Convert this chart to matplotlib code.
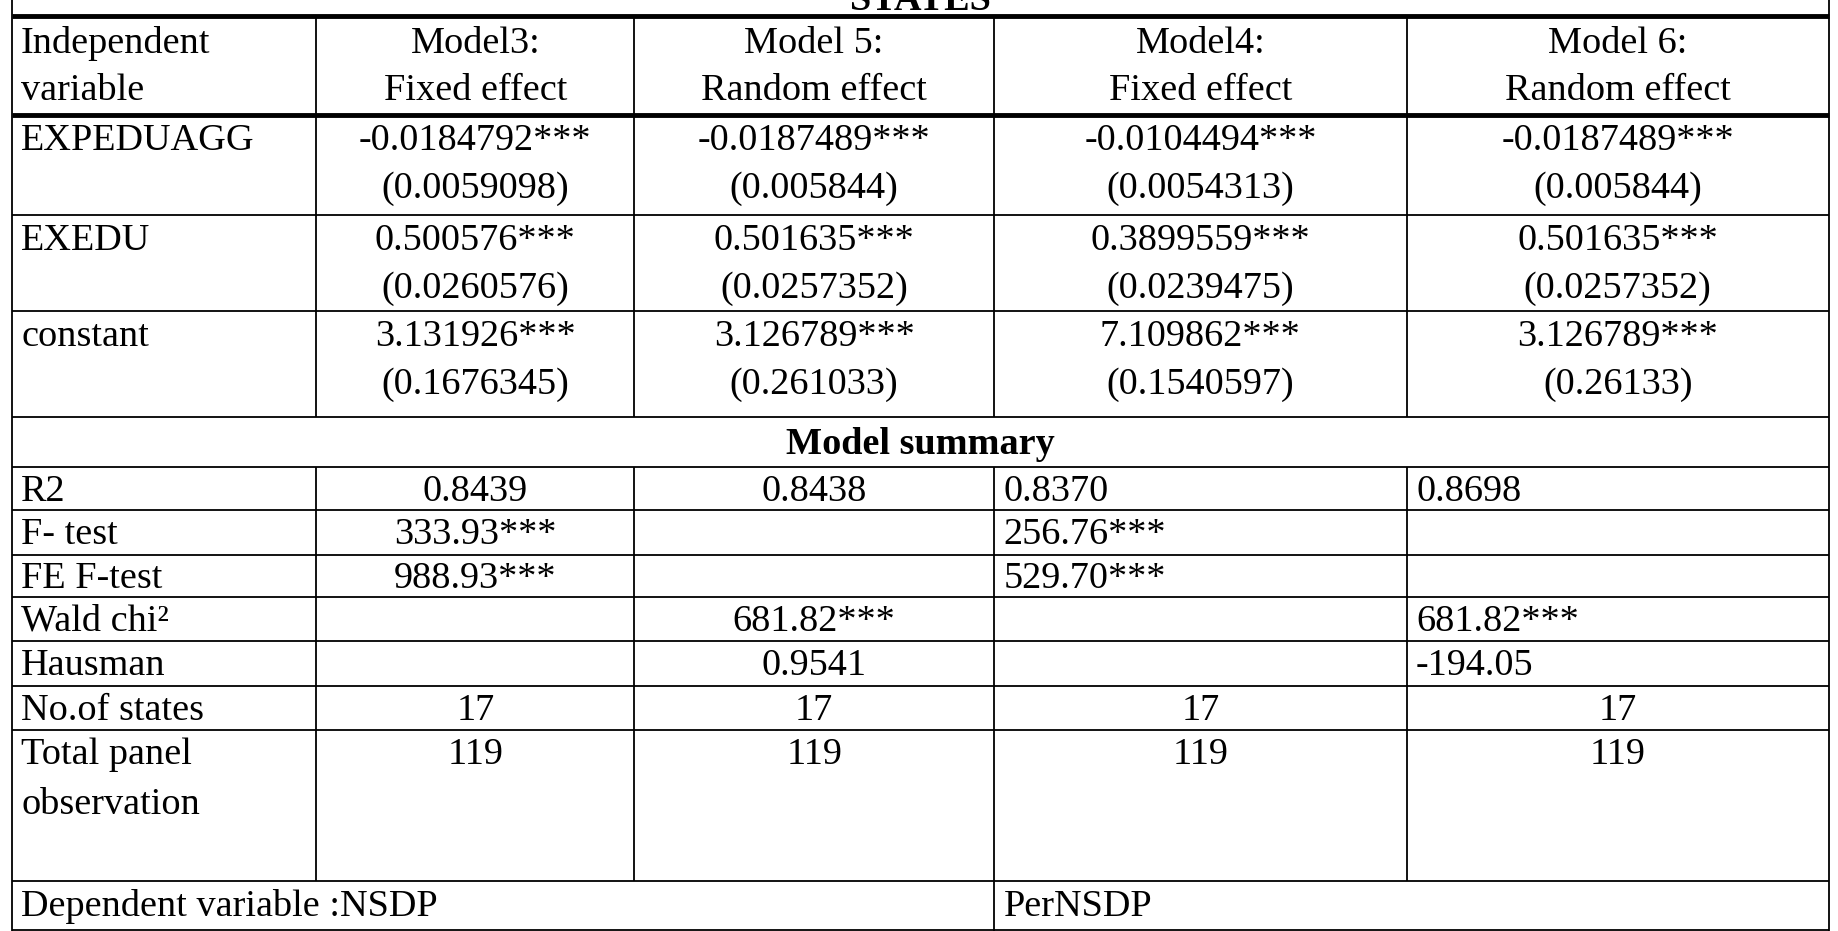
import matplotlib
matplotlib.use("Agg")
import matplotlib.pyplot as plt

columns = ["Independent\nvariable", "Model3:\nFixed effect", "Model 5:\nRandom effect",
           "Model4:\nFixed effect", "Model 6:\nRandom effect"]
coef_rows = ["EXPEDUAGG", "EXEDU", "constant"]
coef_vals = [
    ["-0.0184792***", "-0.0187489***", "-0.0104494***", "-0.0187489***"],
    ["0.500576***", "0.501635***", "0.3899559***", "0.501635***"],
    ["3.131926***", "3.126789***", "7.109862***", "3.126789***"],
]
coef_se = [
    ["(0.0059098)", "(0.005844)", "(0.0054313)", "(0.005844)"],
    ["(0.0260576)", "(0.0257352)", "(0.0239475)", "(0.0257352)"],
    ["(0.1676345)", "(0.261033)", "(0.1540597)", "(0.26133)"],
]
summary_rows = ["R2", "F- test", "FE F-test", "Wald chi\u00b2", "Hausman", "No.of states",
                "Total panel\nobservation"]
summary_vals = [
    ["0.8439", "0.8438", "0.8370", "0.8698"],
    ["333.93***", "", "256.76***", ""],
    ["988.93***", "", "529.70***", ""],
    ["", "681.82***", "", "681.82***"],
    ["", "0.9541", "", "-194.05"],
    ["17", "17", "17", "17"],
    ["119", "119", "119", "119"],
]
summary_align = [
    ["c", "c", "l", "l"], ["c", "c", "l", "l"], ["c", "c", "l", "l"],
    ["c", "c", "l", "l"], ["c", "c", "l", "l"], ["c", "c", "c", "c"], ["c", "c", "c", "c"],
]
footer = ["Dependent variable :NSDP", "PerNSDP"]

W, H = 1568, 794
fig = plt.figure(figsize=(18.38, 9.31), dpi=100)
ax = fig.add_axes([0, 0, 1, 1])
ax.set_xlim(0, W); ax.set_ylim(H, 0); ax.axis("off")
plt.rcParams["font.family"] = ["Liberation Serif", "DejaVu Serif"]
FS = 27.5

xs = [10, 270, 541, 848, 1200, 1560]
thin, thick = 1.3, 3.5

def hline(y, x0=xs[0], x1=xs[-1], lw=thin):
    ax.plot([x0, x1], [y, y], color="black", lw=lw, solid_capstyle="butt")
def vline(x, y0, y1, lw=thin):
    ax.plot([x, x], [y0, y1], color="black", lw=lw, solid_capstyle="butt")

def txt(x, y, s, ha="center", **kw):
    ax.text(x, y, s, ha=ha, va="center", fontsize=FS, linespacing=1.2, **kw)

def cell_text(ci, y, s, align="c"):
    if align == "c":
        txt((xs[ci] + xs[ci + 1]) / 2, y, s)
    else:
        txt(xs[ci] + 8, y, s, ha="left")

ax.text((xs[0] + xs[-1]) / 2, 0, "STATES", ha="center", va="center", fontsize=FS,
        fontweight="bold", clip_on=True)
vline(xs[0], 0, 14); vline(xs[-1], 0, 14)

hline(14, lw=thick)
for i, c in enumerate(columns):
    l1, l2 = c.split("\n")
    cell_text(i, 37, l1, "l" if i == 0 else "c")
    cell_text(i, 77, l2, "l" if i == 0 else "c")
hline(98, lw=thick)
for x in xs:
    vline(x, 14, 98)

row_bounds = [(98, 183), (183, 265), (265, 356)]
for r, (a, b) in enumerate(row_bounds):
    cell_text(0, a + 22, coef_rows[r], "l")
    for j in range(4):
        cell_text(j + 1, a + 22, coef_vals[r][j])
        cell_text(j + 1, a + 63, coef_se[r][j])
    hline(b)
    for x in xs:
        vline(x, a, b)

txt((xs[0] + xs[-1]) / 2, 379, "Model summary", fontweight="bold")
vline(xs[0], 356, 398); vline(xs[-1], 356, 398)
hline(398)
sb = [(398, 435), (435, 473), (473, 509), (509, 547), (547, 585), (585, 623), (623, 751)]
for r, (a, b) in enumerate(sb):
    lab = summary_rows[r]
    if "\n" in lab:
        l1, l2 = lab.split("\n")
        cell_text(0, a + 21, l1, "l"); cell_text(0, a + 63, l2, "l")
    else:
        cell_text(0, a + 21, lab, "l")
    for j in range(4):
        if summary_vals[r][j]:
            cell_text(j + 1, a + 21, summary_vals[r][j], summary_align[r][j])
    hline(b)
    for x in xs:
        vline(x, a, b)

cell_text(0, 773, footer[0], "l")
txt(xs[3] + 8, 773, footer[1], ha="left")
for x in (xs[0], xs[3], xs[-1]):
    vline(x, 751, H)
hline(H - 0.5)

fig.savefig("out.png", dpi=100, facecolor="white")
